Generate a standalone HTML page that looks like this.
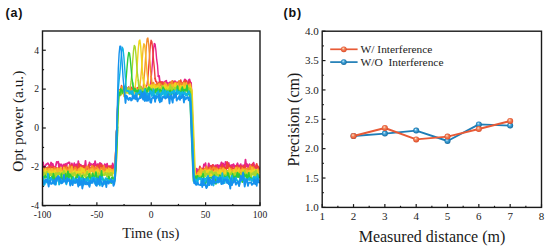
<!DOCTYPE html>
<html><head><meta charset="utf-8"><style>
html,body{margin:0;padding:0;background:#fff;}
svg{display:block;}
.tl{font-family:"Liberation Serif",serif;font-size:9.6px;fill:#222;}
.tr{font-family:"Liberation Serif",serif;font-size:11px;fill:#222;}
.al{font-family:"Liberation Serif",serif;font-size:15.3px;fill:#1a1a1a;}
.ar{font-family:"Liberation Serif",serif;font-size:16px;fill:#1a1a1a;}
.lg{font-family:"Liberation Serif",serif;font-size:11.4px;fill:#222;}
.pl{font-family:"Liberation Sans",sans-serif;font-size:12.5px;font-weight:bold;fill:#111;letter-spacing:0.9px;}
</style></head><body>
<svg width="550" height="251" viewBox="0 0 550 251">
<defs>
<radialGradient id="go" cx="0.5" cy="0.5" fx="0.38" fy="0.32" r="0.6"><stop offset="0" stop-color="#ffe6d8"/><stop offset="0.35" stop-color="#f08a60"/><stop offset="0.7" stop-color="#e85a36"/><stop offset="1" stop-color="#c23c1a"/></radialGradient>
<radialGradient id="gb" cx="0.5" cy="0.5" fx="0.38" fy="0.32" r="0.6"><stop offset="0" stop-color="#d8f2ff"/><stop offset="0.35" stop-color="#4aa6d8"/><stop offset="0.7" stop-color="#1e7db6"/><stop offset="1" stop-color="#11557f"/></radialGradient>
</defs>
<text x="5.4" y="16.5" class="pl">(a)</text>
<text x="283.4" y="16.5" class="pl">(b)</text>
<polyline points="43.1,162.3 43.9,169.6 44.7,166.7 45.5,165.4 46.3,164.2 47.1,164.0 47.9,163.2 48.7,164.6 49.5,166.0 50.3,165.6 51.1,162.5 51.9,165.3 52.7,163.8 53.5,166.4 54.3,170.7 55.1,167.6 55.9,165.2 56.7,161.9 57.5,162.5 58.3,161.8 59.1,167.8 59.9,164.1 60.7,166.2 61.5,164.4 62.3,166.2 63.1,169.5 63.9,164.3 64.7,165.1 65.5,164.0 66.3,168.2 67.1,163.4 67.9,163.2 68.7,162.5 69.5,162.5 70.3,167.2 71.1,172.4 71.9,163.5 72.7,168.4 73.5,166.6 74.3,163.2 75.1,165.3 75.9,165.4 76.7,164.3 77.5,170.8 78.3,161.2 79.1,167.0 79.9,166.8 80.7,164.6 81.5,166.4 82.3,168.2 83.1,166.4 83.9,167.0 84.7,167.7 85.5,160.9 86.3,169.7 87.1,171.7 87.9,168.5 88.7,168.5 89.5,162.5 90.3,165.7 91.1,164.0 91.9,164.5 92.7,168.4 93.5,164.0 94.3,165.7 95.1,161.2 95.9,165.6 96.7,166.2 97.5,164.2 98.3,164.2 99.1,170.7 99.9,163.0 100.7,163.4 101.5,164.0 102.3,169.0 103.1,171.3 103.9,166.8 104.7,164.2 105.5,164.9 106.3,168.7 107.1,163.7 107.9,169.6 108.7,169.5 109.5,166.2 110.3,167.6 111.1,167.9 111.9,169.9 112.7,163.4 113.5,169.0 114.3,165.1 115.1,166.0 115.9,151.4 116.7,131.8" fill="none" stroke="#e6238a" stroke-width="1.8" stroke-linejoin="round" stroke-linecap="round"/><polyline points="116.7,131.8 117.5,112.3 118.3,92.8 119.1,89.5 119.9,93.1 120.7,94.4 121.5,91.1 122.3,92.5 123.1,88.2 123.9,89.3 124.7,90.2 125.5,86.8 126.3,87.0 127.1,89.7 127.9,88.7 128.7,86.8 129.5,90.5 130.3,88.8 131.1,92.1 131.9,89.5 132.7,88.7 133.5,89.8 134.3,89.1 135.1,87.8 135.9,88.5 136.7,91.4 137.5,91.1 138.3,92.7 139.1,85.3 139.9,88.5 140.7,88.5 141.5,89.9 142.3,88.4 143.1,88.2 143.9,91.5 144.7,89.9 145.5,86.6 146.3,92.8 147.1,91.9 147.9,87.9 148.7,90.9 149.5,85.9 150.3,86.9 151.1,78.8 151.9,69.8 152.7,59.6 153.5,49.6 154.3,43.5 155.1,44.0 155.9,50.4 156.7,59.7 157.5,65.1 158.3,76.2" fill="none" stroke="#e6238a" stroke-width="1.4" stroke-linejoin="round" stroke-linecap="round"/><polyline points="158.3,76.2 159.1,75.9 159.9,82.5 160.7,85.4 161.5,83.6 162.3,82.0 163.1,82.5 163.9,82.7 164.7,81.6 165.5,81.5 166.3,80.7 167.1,86.0 167.9,83.0 168.7,85.4 169.5,82.4 170.3,83.2 171.1,82.6 171.9,84.2 172.7,85.1 173.5,83.6 174.3,81.3 175.1,81.1 175.9,87.1 176.7,82.3 177.5,82.3 178.3,86.7 179.1,85.7 179.9,84.3 180.7,82.0 181.5,88.9 182.3,84.0 183.1,84.4 183.9,82.6 184.7,79.5 185.5,79.7 186.3,84.0 187.1,84.0 187.9,82.4 188.7,80.1 189.5,79.4 190.3,82.2 191.1,83.0 191.9,104.3 192.7,125.7 193.5,147.0 194.3,168.3 195.1,177.6 195.9,174.4 196.7,168.6 197.5,170.8 198.3,170.3 199.1,171.7 199.9,170.3 200.7,169.7 201.5,168.4 202.3,169.1 203.1,170.7 203.9,164.3 204.7,165.6 205.5,163.2 206.3,170.5 207.1,169.6 207.9,168.2 208.7,163.3 209.5,166.6 210.3,165.6 211.1,166.3 211.9,165.6 212.7,167.4 213.5,165.1 214.3,168.2 215.1,166.6 215.9,165.3 216.7,165.7 217.5,164.9 218.3,168.0 219.1,165.3 219.9,166.7 220.7,165.0 221.5,162.3 222.3,168.3 223.1,163.4 223.9,167.7 224.7,167.1 225.5,161.9 226.3,163.6 227.1,164.7 227.9,163.9 228.7,163.0 229.5,167.9 230.3,165.4 231.1,167.0 231.9,164.9 232.7,166.8 233.5,164.1 234.3,165.9 235.1,167.5 235.9,166.1 236.7,164.9 237.5,163.3 238.3,166.4 239.1,166.9 239.9,165.4 240.7,164.1 241.5,167.4 242.3,172.2 243.1,165.2 243.9,166.8 244.7,166.9 245.5,159.6 246.3,166.3 247.1,164.2 247.9,169.5 248.7,165.4 249.5,164.1 250.3,165.5 251.1,166.4 251.9,164.6 252.7,165.9 253.5,162.6 254.3,165.4 255.1,167.9 255.9,170.9 256.7,167.8 257.5,166.7 258.3,169.0 259.1,168.5" fill="none" stroke="#e6238a" stroke-width="1.8" stroke-linejoin="round" stroke-linecap="round"/><polyline points="43.1,167.9 43.9,167.8 44.7,168.0 45.5,170.5 46.3,168.3 47.1,167.7 47.9,167.4 48.7,168.8 49.5,166.0 50.3,166.9 51.1,167.9 51.9,166.8 52.7,167.7 53.5,166.7 54.3,172.4 55.1,170.9 55.9,169.0 56.7,167.9 57.5,172.8 58.3,168.7 59.1,167.8 59.9,168.7 60.7,168.7 61.5,171.1 62.3,168.0 63.1,172.6 63.9,166.1 64.7,169.5 65.5,165.8 66.3,172.0 67.1,167.3 67.9,167.9 68.7,170.0 69.5,170.8 70.3,165.6 71.1,167.2 71.9,164.9 72.7,168.3 73.5,167.8 74.3,167.2 75.1,166.5 75.9,167.2 76.7,166.4 77.5,169.2 78.3,171.3 79.1,163.8 79.9,167.7 80.7,167.1 81.5,169.1 82.3,165.9 83.1,167.7 83.9,165.7 84.7,169.5 85.5,168.2 86.3,167.6 87.1,168.8 87.9,167.5 88.7,164.6 89.5,169.3 90.3,168.6 91.1,167.7 91.9,170.2 92.7,170.7 93.5,165.6 94.3,166.3 95.1,171.4 95.9,171.1 96.7,166.4 97.5,165.4 98.3,166.6 99.1,166.9 99.9,164.5 100.7,168.1 101.5,165.2 102.3,165.3 103.1,170.0 103.9,166.5 104.7,167.8 105.5,169.4 106.3,169.8 107.1,167.3 107.9,168.1 108.7,166.2 109.5,171.8 110.3,169.4 111.1,165.6 111.9,168.0 112.7,169.6 113.5,169.1 114.3,172.0 115.1,168.0 115.9,150.7 116.7,130.9" fill="none" stroke="#f0413a" stroke-width="1.8" stroke-linejoin="round" stroke-linecap="round"/><polyline points="116.7,130.9 117.5,111.2 118.3,91.4 119.1,90.0 119.9,95.9 120.7,90.2 121.5,85.4 122.3,88.5 123.1,90.2 123.9,87.2 124.7,88.1 125.5,89.2 126.3,90.8 127.1,89.6 127.9,88.0 128.7,91.7 129.5,88.8 130.3,88.9 131.1,87.0 131.9,88.3 132.7,91.4 133.5,86.4 134.3,89.8 135.1,91.6 135.9,89.2 136.7,90.5 137.5,87.5 138.3,92.9 139.1,92.4 139.9,90.5 140.7,86.1 141.5,87.7 142.3,92.1 143.1,93.8 143.9,90.6 144.7,92.5 145.5,87.9 146.3,87.2 147.1,84.2 147.9,78.3 148.7,67.0 149.5,56.5 150.3,45.8 151.1,40.2 151.9,41.8 152.7,49.7 153.5,59.9 154.3,67.6 155.1,78.4" fill="none" stroke="#f0413a" stroke-width="1.4" stroke-linejoin="round" stroke-linecap="round"/><polyline points="155.1,78.4 155.9,81.4 156.7,82.0 157.5,88.3 158.3,84.2 159.1,82.3 159.9,84.2 160.7,81.7 161.5,82.3 162.3,84.9 163.1,82.8 163.9,83.0 164.7,87.7 165.5,85.9 166.3,85.8 167.1,85.2 167.9,85.1 168.7,87.2 169.5,84.0 170.3,88.1 171.1,81.9 171.9,83.4 172.7,81.0 173.5,83.2 174.3,85.1 175.1,87.2 175.9,82.5 176.7,84.0 177.5,83.2 178.3,82.4 179.1,81.4 179.9,84.1 180.7,80.2 181.5,84.2 182.3,84.0 183.1,82.6 183.9,81.8 184.7,81.0 185.5,88.1 186.3,81.0 187.1,87.4 187.9,85.3 188.7,83.2 189.5,81.5 190.3,86.3 191.1,86.7 191.9,108.0 192.7,129.3 193.5,150.7 194.3,172.0 195.1,178.4 195.9,175.8 196.7,175.3 197.5,171.4 198.3,175.7 199.1,170.0 199.9,166.4 200.7,169.8 201.5,169.4 202.3,173.4 203.1,168.3 203.9,168.8 204.7,170.0 205.5,172.0 206.3,168.3 207.1,170.6 207.9,169.4 208.7,167.6 209.5,168.3 210.3,168.2 211.1,166.1 211.9,170.8 212.7,165.0 213.5,170.6 214.3,170.1 215.1,167.8 215.9,166.3 216.7,167.5 217.5,169.1 218.3,169.6 219.1,168.6 219.9,170.2 220.7,166.8 221.5,168.5 222.3,164.6 223.1,169.7 223.9,168.3 224.7,167.1 225.5,170.6 226.3,169.5 227.1,161.8 227.9,168.1 228.7,164.8 229.5,170.3 230.3,173.5 231.1,166.9 231.9,168.2 232.7,167.4 233.5,168.8 234.3,169.4 235.1,170.8 235.9,165.8 236.7,171.5 237.5,166.0 238.3,168.6 239.1,170.5 239.9,169.6 240.7,165.9 241.5,166.5 242.3,167.0 243.1,167.9 243.9,170.5 244.7,165.2 245.5,169.0 246.3,169.3 247.1,169.2 247.9,169.0 248.7,171.3 249.5,169.1 250.3,169.9 251.1,169.2 251.9,171.9 252.7,163.8 253.5,170.8 254.3,167.4 255.1,167.4 255.9,165.9 256.7,163.9 257.5,167.2 258.3,166.5 259.1,169.1" fill="none" stroke="#f0413a" stroke-width="1.8" stroke-linejoin="round" stroke-linecap="round"/><polyline points="43.1,168.5 43.9,170.3 44.7,173.4 45.5,170.7 46.3,168.7 47.1,169.9 47.9,168.1 48.7,170.6 49.5,171.8 50.3,168.3 51.1,169.6 51.9,172.3 52.7,169.0 53.5,170.4 54.3,167.9 55.1,168.3 55.9,169.0 56.7,174.4 57.5,169.2 58.3,168.9 59.1,168.9 59.9,169.7 60.7,171.3 61.5,170.4 62.3,174.1 63.1,170.4 63.9,172.9 64.7,170.6 65.5,171.2 66.3,167.1 67.1,169.7 67.9,169.9 68.7,169.5 69.5,165.7 70.3,171.8 71.1,169.2 71.9,169.1 72.7,169.5 73.5,169.5 74.3,170.8 75.1,167.5 75.9,168.1 76.7,170.6 77.5,170.3 78.3,169.2 79.1,168.9 79.9,168.3 80.7,169.9 81.5,172.4 82.3,167.9 83.1,173.0 83.9,171.7 84.7,169.1 85.5,171.6 86.3,167.1 87.1,166.5 87.9,167.4 88.7,169.2 89.5,169.3 90.3,169.0 91.1,170.2 91.9,165.7 92.7,171.0 93.5,167.2 94.3,168.7 95.1,169.2 95.9,167.7 96.7,167.3 97.5,168.0 98.3,170.0 99.1,171.2 99.9,171.1 100.7,168.0 101.5,168.4 102.3,168.2 103.1,170.9 103.9,165.9 104.7,172.5 105.5,169.0 106.3,168.4 107.1,170.7 107.9,172.1 108.7,170.7 109.5,172.1 110.3,170.3 111.1,172.5 111.9,172.5 112.7,169.8 113.5,172.9 114.3,170.3 115.1,170.0 115.9,150.1 116.7,130.2" fill="none" stroke="#f58c28" stroke-width="1.8" stroke-linejoin="round" stroke-linecap="round"/><polyline points="116.7,130.2 117.5,110.4 118.3,90.5 119.1,92.3 119.9,91.7 120.7,91.6 121.5,86.6 122.3,90.8 123.1,92.3 123.9,89.5 124.7,91.2 125.5,86.2 126.3,92.3 127.1,89.7 127.9,92.7 128.7,87.3 129.5,92.4 130.3,90.5 131.1,92.6 131.9,89.1 132.7,89.8 133.5,95.5 134.3,89.3 135.1,89.6 135.9,90.4 136.7,89.0 137.5,93.4 138.3,94.4 139.1,89.6 139.9,87.5 140.7,93.2 141.5,92.6 142.3,90.8 143.1,88.3 143.9,79.7 144.7,71.5 145.5,59.1 146.3,47.3 147.1,39.0 147.9,38.0 148.7,44.5 149.5,55.4 150.3,66.3 151.1,76.6" fill="none" stroke="#f58c28" stroke-width="1.4" stroke-linejoin="round" stroke-linecap="round"/><polyline points="151.1,76.6 151.9,84.0 152.7,84.7 153.5,82.6 154.3,86.1 155.1,88.2 155.9,84.5 156.7,84.0 157.5,87.5 158.3,85.8 159.1,83.3 159.9,84.7 160.7,84.0 161.5,86.1 162.3,85.7 163.1,87.8 163.9,86.9 164.7,82.4 165.5,86.3 166.3,87.3 167.1,86.4 167.9,87.6 168.7,84.4 169.5,83.6 170.3,87.4 171.1,83.4 171.9,81.2 172.7,87.6 173.5,84.1 174.3,84.9 175.1,82.7 175.9,82.8 176.7,83.2 177.5,84.8 178.3,86.2 179.1,80.9 179.9,87.0 180.7,83.1 181.5,83.4 182.3,86.9 183.1,85.4 183.9,82.4 184.7,89.2 185.5,83.8 186.3,86.0 187.1,85.9 187.9,88.3 188.7,84.6 189.5,87.5 190.3,84.0 191.1,90.7 191.9,111.7 192.7,132.7 193.5,153.7 194.3,174.7 195.1,178.5 195.9,178.6 196.7,175.8 197.5,173.1 198.3,174.5 199.1,170.7 199.9,174.1 200.7,173.9 201.5,170.3 202.3,169.9 203.1,171.2 203.9,170.7 204.7,168.6 205.5,171.6 206.3,166.3 207.1,169.4 207.9,169.4 208.7,169.6 209.5,170.8 210.3,167.7 211.1,171.3 211.9,169.7 212.7,168.8 213.5,167.3 214.3,167.7 215.1,170.7 215.9,168.1 216.7,170.1 217.5,172.1 218.3,172.1 219.1,173.1 219.9,169.4 220.7,167.8 221.5,172.0 222.3,170.6 223.1,172.3 223.9,170.0 224.7,172.4 225.5,171.7 226.3,171.4 227.1,171.0 227.9,170.8 228.7,170.5 229.5,170.5 230.3,172.0 231.1,169.0 231.9,173.5 232.7,169.8 233.5,172.0 234.3,169.8 235.1,169.5 235.9,174.1 236.7,169.4 237.5,167.4 238.3,168.6 239.1,169.4 239.9,174.3 240.7,170.4 241.5,171.9 242.3,168.0 243.1,170.7 243.9,171.3 244.7,173.6 245.5,168.6 246.3,171.2 247.1,170.6 247.9,168.0 248.7,170.0 249.5,169.5 250.3,165.3 251.1,171.2 251.9,171.1 252.7,169.1 253.5,167.3 254.3,173.0 255.1,170.5 255.9,172.0 256.7,172.8 257.5,169.0 258.3,171.6 259.1,169.5" fill="none" stroke="#f58c28" stroke-width="1.8" stroke-linejoin="round" stroke-linecap="round"/><polyline points="43.1,168.7 43.9,170.2 44.7,173.2 45.5,171.1 46.3,170.9 47.1,174.7 47.9,170.9 48.7,169.3 49.5,169.0 50.3,172.1 51.1,172.1 51.9,168.9 52.7,169.6 53.5,172.5 54.3,172.6 55.1,170.3 55.9,172.7 56.7,172.6 57.5,168.1 58.3,170.9 59.1,172.3 59.9,170.4 60.7,167.4 61.5,171.0 62.3,172.9 63.1,174.5 63.9,167.3 64.7,176.5 65.5,169.4 66.3,173.3 67.1,173.8 67.9,173.4 68.7,171.8 69.5,169.3 70.3,172.7 71.1,170.1 71.9,166.7 72.7,176.9 73.5,172.8 74.3,175.0 75.1,169.8 75.9,174.3 76.7,174.5 77.5,174.5 78.3,171.5 79.1,169.2 79.9,171.2 80.7,167.3 81.5,168.3 82.3,171.7 83.1,169.6 83.9,171.2 84.7,171.3 85.5,175.2 86.3,174.0 87.1,171.4 87.9,173.8 88.7,170.0 89.5,170.9 90.3,173.2 91.1,169.1 91.9,171.0 92.7,169.0 93.5,171.7 94.3,174.6 95.1,170.1 95.9,171.9 96.7,169.8 97.5,169.3 98.3,169.2 99.1,174.3 99.9,176.0 100.7,172.4 101.5,170.1 102.3,172.8 103.1,170.9 103.9,173.0 104.7,172.1 105.5,172.0 106.3,172.7 107.1,170.4 107.9,170.7 108.7,168.2 109.5,170.7 110.3,168.8 111.1,171.2 111.9,169.7 112.7,171.7 113.5,172.4 114.3,168.8 115.1,171.5 115.9,151.5 116.7,131.5" fill="none" stroke="#f7b82a" stroke-width="1.8" stroke-linejoin="round" stroke-linecap="round"/><polyline points="116.7,131.5 117.5,111.5 118.3,91.5 119.1,90.8 119.9,94.3 120.7,88.6 121.5,94.3 122.3,90.3 123.1,86.2 123.9,96.5 124.7,94.5 125.5,89.5 126.3,91.8 127.1,91.1 127.9,91.7 128.7,88.7 129.5,90.2 130.3,92.4 131.1,91.9 131.9,93.8 132.7,91.7 133.5,96.0 134.3,90.1 135.1,92.0 135.9,87.8 136.7,89.1 137.5,93.8 138.3,89.0 139.1,90.1 139.9,85.8 140.7,78.6 141.5,70.1 142.3,58.9 143.1,48.9 143.9,43.7 144.7,45.4 145.5,53.0 146.3,63.1 147.1,73.3 147.9,79.7" fill="none" stroke="#f7b82a" stroke-width="1.4" stroke-linejoin="round" stroke-linecap="round"/><polyline points="147.9,79.7 148.7,85.4 149.5,90.3 150.3,87.8 151.1,86.4 151.9,86.2 152.7,84.9 153.5,84.8 154.3,84.6 155.1,85.7 155.9,85.7 156.7,87.9 157.5,85.7 158.3,86.1 159.1,84.2 159.9,89.6 160.7,87.5 161.5,89.9 162.3,88.0 163.1,89.3 163.9,86.0 164.7,87.9 165.5,91.6 166.3,84.2 167.1,88.7 167.9,89.7 168.7,87.3 169.5,88.0 170.3,88.9 171.1,85.2 171.9,87.3 172.7,84.8 173.5,85.2 174.3,85.3 175.1,86.2 175.9,86.8 176.7,87.4 177.5,83.7 178.3,90.4 179.1,88.7 179.9,87.9 180.7,85.8 181.5,86.3 182.3,87.6 183.1,87.3 183.9,83.2 184.7,87.9 185.5,92.2 186.3,82.9 187.1,88.4 187.9,87.2 188.7,86.3 189.5,89.2 190.3,84.2 191.1,94.3 191.9,115.2 192.7,136.1 193.5,157.0 194.3,177.9 195.1,178.7 195.9,178.7 196.7,175.1 197.5,176.4 198.3,172.5 199.1,175.0 199.9,173.2 200.7,168.3 201.5,172.7 202.3,170.4 203.1,171.4 203.9,175.0 204.7,169.8 205.5,169.8 206.3,174.6 207.1,172.0 207.9,174.7 208.7,172.3 209.5,169.9 210.3,171.5 211.1,174.0 211.9,173.4 212.7,171.5 213.5,171.6 214.3,171.3 215.1,170.4 215.9,175.3 216.7,171.5 217.5,169.3 218.3,170.6 219.1,172.9 219.9,172.8 220.7,171.2 221.5,170.2 222.3,171.5 223.1,168.2 223.9,169.0 224.7,173.1 225.5,170.6 226.3,172.2 227.1,173.9 227.9,172.8 228.7,171.5 229.5,175.7 230.3,172.8 231.1,170.8 231.9,172.9 232.7,172.3 233.5,169.8 234.3,171.6 235.1,171.2 235.9,167.7 236.7,171.2 237.5,170.9 238.3,170.6 239.1,168.3 239.9,170.8 240.7,171.4 241.5,171.7 242.3,169.3 243.1,172.7 243.9,169.1 244.7,171.1 245.5,174.0 246.3,170.1 247.1,170.5 247.9,173.6 248.7,170.8 249.5,170.9 250.3,171.9 251.1,173.5 251.9,167.2 252.7,169.9 253.5,169.5 254.3,169.4 255.1,169.8 255.9,169.9 256.7,172.1 257.5,169.8 258.3,171.7 259.1,172.3" fill="none" stroke="#f7b82a" stroke-width="1.8" stroke-linejoin="round" stroke-linecap="round"/><polyline points="43.1,173.5 43.9,172.6 44.7,175.2 45.5,168.9 46.3,173.0 47.1,171.6 47.9,173.3 48.7,173.4 49.5,171.3 50.3,171.8 51.1,174.5 51.9,173.7 52.7,171.7 53.5,176.9 54.3,177.4 55.1,170.2 55.9,173.6 56.7,177.8 57.5,174.5 58.3,173.4 59.1,172.6 59.9,172.0 60.7,172.6 61.5,172.0 62.3,174.4 63.1,172.2 63.9,172.2 64.7,170.7 65.5,172.9 66.3,171.3 67.1,172.7 67.9,175.0 68.7,173.7 69.5,174.0 70.3,173.7 71.1,173.1 71.9,172.8 72.7,172.4 73.5,174.4 74.3,170.9 75.1,175.5 75.9,173.1 76.7,171.6 77.5,172.1 78.3,171.7 79.1,173.3 79.9,171.6 80.7,175.2 81.5,171.5 82.3,168.7 83.1,171.6 83.9,169.2 84.7,172.9 85.5,175.0 86.3,174.2 87.1,170.5 87.9,171.6 88.7,176.4 89.5,173.6 90.3,173.0 91.1,175.0 91.9,177.7 92.7,175.5 93.5,173.3 94.3,173.7 95.1,174.2 95.9,171.8 96.7,171.0 97.5,173.1 98.3,171.2 99.1,172.9 99.9,173.2 100.7,177.4 101.5,171.4 102.3,172.8 103.1,172.7 103.9,173.8 104.7,175.0 105.5,172.1 106.3,171.4 107.1,169.9 107.9,171.2 108.7,174.0 109.5,173.1 110.3,171.1 111.1,172.3 111.9,173.1 112.7,174.0 113.5,171.9 114.3,172.5 115.1,169.5 115.9,170.5 116.7,150.5 117.5,130.5" fill="none" stroke="#f0d61e" stroke-width="1.8" stroke-linejoin="round" stroke-linecap="round"/><polyline points="117.5,130.5 118.3,110.5 119.1,90.5 119.9,91.3 120.7,90.5 121.5,91.9 122.3,92.0 123.1,91.8 123.9,88.4 124.7,91.7 125.5,90.4 126.3,91.0 127.1,92.4 127.9,93.2 128.7,93.7 129.5,91.1 130.3,93.8 131.1,94.2 131.9,94.1 132.7,94.5 133.5,91.2 134.3,89.9 135.1,88.8 135.9,80.2 136.7,73.0 137.5,60.7 138.3,48.9 139.1,40.9 139.9,40.1 140.7,46.7 141.5,58.1 142.3,70.0 143.1,78.0" fill="none" stroke="#f0d61e" stroke-width="1.4" stroke-linejoin="round" stroke-linecap="round"/><polyline points="143.1,78.0 143.9,83.3 144.7,84.8 145.5,88.2 146.3,87.4 147.1,89.1 147.9,91.3 148.7,87.9 149.5,85.2 150.3,86.4 151.1,85.2 151.9,85.7 152.7,90.5 153.5,88.4 154.3,85.1 155.1,89.2 155.9,90.4 156.7,87.3 157.5,86.7 158.3,87.4 159.1,88.5 159.9,89.2 160.7,90.2 161.5,90.3 162.3,90.3 163.1,90.6 163.9,89.3 164.7,85.1 165.5,87.8 166.3,88.6 167.1,87.3 167.9,89.7 168.7,87.3 169.5,86.2 170.3,90.7 171.1,89.3 171.9,88.4 172.7,89.8 173.5,90.0 174.3,88.6 175.1,83.3 175.9,86.7 176.7,87.1 177.5,86.1 178.3,88.4 179.1,90.3 179.9,87.1 180.7,85.8 181.5,91.9 182.3,87.1 183.1,85.7 183.9,88.5 184.7,88.8 185.5,86.7 186.3,89.5 187.1,87.1 187.9,86.2 188.7,88.3 189.5,89.5 190.3,86.8 191.1,88.6 191.9,90.6 192.7,111.2 193.5,131.9 194.3,152.6 195.1,173.2 195.9,179.9 196.7,179.1 197.5,178.4 198.3,178.1 199.1,176.3 199.9,174.3 200.7,173.9 201.5,175.3 202.3,175.1 203.1,176.4 203.9,174.5 204.7,175.5 205.5,176.3 206.3,173.7 207.1,170.5 207.9,171.0 208.7,170.5 209.5,176.2 210.3,171.5 211.1,175.4 211.9,174.2 212.7,176.3 213.5,174.9 214.3,172.8 215.1,172.6 215.9,173.2 216.7,173.4 217.5,172.0 218.3,172.9 219.1,176.1 219.9,169.8 220.7,173.5 221.5,171.3 222.3,173.4 223.1,174.6 223.9,172.9 224.7,174.5 225.5,170.0 226.3,175.1 227.1,171.9 227.9,174.2 228.7,173.3 229.5,168.1 230.3,171.6 231.1,173.4 231.9,176.0 232.7,173.5 233.5,173.5 234.3,170.3 235.1,175.7 235.9,176.4 236.7,173.1 237.5,172.6 238.3,169.9 239.1,174.7 239.9,178.1 240.7,174.4 241.5,175.4 242.3,174.0 243.1,171.1 243.9,175.5 244.7,170.7 245.5,172.6 246.3,173.5 247.1,174.7 247.9,173.8 248.7,173.7 249.5,171.6 250.3,170.6 251.1,173.1 251.9,171.7 252.7,170.5 253.5,170.6 254.3,172.1 255.1,169.5 255.9,170.4 256.7,169.9 257.5,173.3 258.3,173.8 259.1,176.8" fill="none" stroke="#f0d61e" stroke-width="1.8" stroke-linejoin="round" stroke-linecap="round"/><polyline points="43.1,175.4 43.9,172.3 44.7,178.3 45.5,175.2 46.3,172.6 47.1,171.6 47.9,174.4 48.7,174.8 49.5,173.6 50.3,175.2 51.1,173.7 51.9,176.1 52.7,173.6 53.5,174.9 54.3,177.0 55.1,180.1 55.9,173.0 56.7,174.1 57.5,173.3 58.3,176.6 59.1,172.7 59.9,174.0 60.7,174.9 61.5,173.0 62.3,173.1 63.1,174.0 63.9,170.8 64.7,172.1 65.5,174.2 66.3,175.3 67.1,174.6 67.9,171.5 68.7,174.1 69.5,176.6 70.3,176.1 71.1,174.8 71.9,173.2 72.7,176.3 73.5,173.8 74.3,172.7 75.1,173.4 75.9,177.9 76.7,175.4 77.5,177.3 78.3,174.0 79.1,176.9 79.9,173.8 80.7,174.7 81.5,180.0 82.3,176.5 83.1,174.0 83.9,174.8 84.7,175.7 85.5,177.4 86.3,174.0 87.1,171.5 87.9,174.4 88.7,175.0 89.5,175.2 90.3,177.6 91.1,175.6 91.9,176.6 92.7,172.8 93.5,176.7 94.3,179.2 95.1,176.5 95.9,175.5 96.7,175.3 97.5,178.6 98.3,173.1 99.1,174.8 99.9,175.9 100.7,176.5 101.5,174.1 102.3,175.6 103.1,174.4 103.9,175.2 104.7,174.7 105.5,172.7 106.3,175.0 107.1,176.8 107.9,173.1 108.7,174.5 109.5,176.3 110.3,172.9 111.1,175.4 111.9,172.9 112.7,177.3 113.5,179.6 114.3,179.0 115.1,175.0 115.9,159.9 116.7,139.8" fill="none" stroke="#a8d62c" stroke-width="1.8" stroke-linejoin="round" stroke-linecap="round"/><polyline points="116.7,139.8 117.5,119.7 118.3,99.6 119.1,92.0 119.9,94.1 120.7,91.9 121.5,94.8 122.3,92.4 123.1,90.7 123.9,92.6 124.7,93.5 125.5,92.1 126.3,93.0 127.1,90.9 127.9,87.6 128.7,93.1 129.5,91.3 130.3,87.2 131.1,81.2 131.9,72.8 132.7,61.0 133.5,50.9 134.3,45.4 135.1,46.7 135.9,54.1 136.7,65.3 137.5,74.2 138.3,80.5" fill="none" stroke="#a8d62c" stroke-width="1.4" stroke-linejoin="round" stroke-linecap="round"/><polyline points="138.3,80.5 139.1,88.5 139.9,88.1 140.7,86.6 141.5,88.7 142.3,91.3 143.1,91.9 143.9,88.6 144.7,90.3 145.5,90.9 146.3,88.2 147.1,90.2 147.9,89.4 148.7,88.4 149.5,88.5 150.3,89.6 151.1,89.6 151.9,88.4 152.7,88.6 153.5,91.7 154.3,89.9 155.1,91.3 155.9,91.9 156.7,90.7 157.5,94.0 158.3,87.8 159.1,91.1 159.9,88.9 160.7,93.2 161.5,92.9 162.3,85.6 163.1,87.6 163.9,90.8 164.7,91.1 165.5,91.0 166.3,89.4 167.1,90.4 167.9,90.8 168.7,89.3 169.5,91.6 170.3,85.0 171.1,90.8 171.9,87.4 172.7,91.4 173.5,89.0 174.3,87.7 175.1,90.2 175.9,87.7 176.7,87.7 177.5,86.4 178.3,89.4 179.1,90.5 179.9,91.5 180.7,89.2 181.5,91.6 182.3,89.5 183.1,89.3 183.9,90.6 184.7,91.6 185.5,88.8 186.3,89.0 187.1,89.2 187.9,89.7 188.7,87.7 189.5,91.6 190.3,88.7 191.1,97.1 191.9,117.5 192.7,137.8 193.5,158.1 194.3,178.5 195.1,180.9 195.9,179.2 196.7,180.2 197.5,178.8 198.3,175.9 199.1,175.9 199.9,177.0 200.7,176.1 201.5,175.9 202.3,175.1 203.1,172.0 203.9,175.0 204.7,171.0 205.5,176.0 206.3,173.8 207.1,173.7 207.9,174.7 208.7,175.6 209.5,172.2 210.3,171.6 211.1,172.9 211.9,171.0 212.7,173.1 213.5,178.2 214.3,172.9 215.1,176.3 215.9,172.3 216.7,175.6 217.5,174.4 218.3,174.9 219.1,176.1 219.9,178.5 220.7,175.4 221.5,175.3 222.3,173.1 223.1,176.2 223.9,174.5 224.7,176.7 225.5,174.9 226.3,178.5 227.1,171.0 227.9,174.4 228.7,176.8 229.5,174.3 230.3,173.4 231.1,174.5 231.9,172.2 232.7,175.2 233.5,179.9 234.3,177.3 235.1,172.8 235.9,173.3 236.7,174.2 237.5,177.0 238.3,173.4 239.1,173.6 239.9,176.8 240.7,176.7 241.5,174.3 242.3,172.8 243.1,171.9 243.9,173.6 244.7,170.5 245.5,176.5 246.3,173.7 247.1,176.0 247.9,178.7 248.7,177.3 249.5,172.7 250.3,176.7 251.1,177.3 251.9,173.5 252.7,173.1 253.5,174.8 254.3,171.8 255.1,177.9 255.9,170.2 256.7,172.8 257.5,174.5 258.3,174.5 259.1,175.3" fill="none" stroke="#a8d62c" stroke-width="1.8" stroke-linejoin="round" stroke-linecap="round"/><polyline points="43.1,177.6 43.9,176.9 44.7,177.0 45.5,175.5 46.3,177.3 47.1,176.6 47.9,178.2 48.7,174.9 49.5,178.6 50.3,178.4 51.1,177.6 51.9,176.9 52.7,179.4 53.5,173.7 54.3,179.2 55.1,178.6 55.9,178.7 56.7,179.0 57.5,176.3 58.3,177.3 59.1,179.7 59.9,179.1 60.7,178.5 61.5,174.1 62.3,179.4 63.1,181.0 63.9,180.6 64.7,178.6 65.5,174.0 66.3,180.5 67.1,177.6 67.9,171.4 68.7,179.0 69.5,174.1 70.3,174.6 71.1,176.3 71.9,181.3 72.7,177.0 73.5,178.7 74.3,182.5 75.1,182.1 75.9,177.7 76.7,177.4 77.5,174.7 78.3,176.2 79.1,179.1 79.9,179.0 80.7,178.3 81.5,180.6 82.3,176.0 83.1,177.9 83.9,179.9 84.7,179.5 85.5,180.8 86.3,179.0 87.1,177.2 87.9,178.9 88.7,175.4 89.5,173.7 90.3,179.5 91.1,177.9 91.9,178.8 92.7,173.6 93.5,177.1 94.3,176.4 95.1,175.8 95.9,172.1 96.7,177.1 97.5,180.3 98.3,179.0 99.1,176.4 99.9,178.0 100.7,180.0 101.5,170.8 102.3,177.7 103.1,179.4 103.9,179.8 104.7,182.4 105.5,181.0 106.3,178.8 107.1,178.8 107.9,180.0 108.7,176.6 109.5,177.9 110.3,180.4 111.1,183.1 111.9,177.6 112.7,177.9 113.5,178.5 114.3,181.5 115.1,178.0 115.9,167.8 116.7,147.5 117.5,127.1" fill="none" stroke="#2bcb3c" stroke-width="1.8" stroke-linejoin="round" stroke-linecap="round"/><polyline points="117.5,127.1 118.3,106.8 119.1,92.5 119.9,95.2 120.7,88.6 121.5,90.1 122.3,93.2 123.1,90.3 123.9,87.3 124.7,90.7 125.5,84.6 126.3,76.8 127.1,66.7 127.9,57.9 128.7,52.5 129.5,53.1 130.3,59.2 131.1,68.2 131.9,77.8 132.7,83.1" fill="none" stroke="#2bcb3c" stroke-width="1.4" stroke-linejoin="round" stroke-linecap="round"/><polyline points="132.7,83.1 133.5,89.8 134.3,90.9 135.1,88.8 135.9,91.6 136.7,90.6 137.5,93.9 138.3,89.9 139.1,90.4 139.9,94.6 140.7,97.3 141.5,96.7 142.3,91.7 143.1,92.1 143.9,95.5 144.7,91.2 145.5,89.0 146.3,91.8 147.1,92.7 147.9,89.3 148.7,87.2 149.5,87.8 150.3,93.2 151.1,89.5 151.9,91.1 152.7,92.1 153.5,93.1 154.3,90.6 155.1,92.8 155.9,89.2 156.7,90.6 157.5,88.8 158.3,94.4 159.1,91.4 159.9,89.6 160.7,90.6 161.5,90.9 162.3,93.3 163.1,87.4 163.9,88.8 164.7,90.5 165.5,98.1 166.3,94.0 167.1,91.2 167.9,93.4 168.7,96.8 169.5,90.9 170.3,90.5 171.1,94.7 171.9,92.8 172.7,93.2 173.5,90.2 174.3,96.5 175.1,95.9 175.9,93.0 176.7,93.3 177.5,86.2 178.3,93.2 179.1,91.0 179.9,92.6 180.7,93.3 181.5,90.6 182.3,87.1 183.1,92.5 183.9,89.6 184.7,90.6 185.5,89.9 186.3,90.6 187.1,85.5 187.9,94.7 188.7,92.2 189.5,91.5 190.3,103.9 191.1,123.8 191.9,143.7 192.7,163.6 193.5,180.9 194.3,179.9 195.1,179.9 195.9,176.2 196.7,179.8 197.5,175.8 198.3,179.4 199.1,178.3 199.9,177.7 200.7,178.2 201.5,176.9 202.3,176.7 203.1,173.9 203.9,178.1 204.7,182.9 205.5,183.2 206.3,181.5 207.1,179.9 207.9,176.3 208.7,181.8 209.5,177.9 210.3,177.8 211.1,177.3 211.9,178.3 212.7,176.9 213.5,177.8 214.3,175.2 215.1,177.0 215.9,183.9 216.7,177.8 217.5,177.4 218.3,179.4 219.1,179.8 219.9,175.1 220.7,177.5 221.5,180.4 222.3,178.7 223.1,178.3 223.9,182.0 224.7,176.2 225.5,178.2 226.3,176.6 227.1,181.9 227.9,172.9 228.7,176.3 229.5,176.6 230.3,179.7 231.1,179.6 231.9,181.6 232.7,173.9 233.5,180.0 234.3,177.2 235.1,176.3 235.9,179.4 236.7,175.6 237.5,172.6 238.3,177.0 239.1,174.1 239.9,176.3 240.7,179.0 241.5,178.8 242.3,182.1 243.1,177.5 243.9,174.0 244.7,176.0 245.5,175.6 246.3,174.8 247.1,179.1 247.9,176.3 248.7,172.9 249.5,179.8 250.3,177.7 251.1,178.9 251.9,178.3 252.7,179.6 253.5,178.1 254.3,181.2 255.1,179.1 255.9,179.0 256.7,179.1 257.5,174.2 258.3,177.6 259.1,177.3" fill="none" stroke="#2bcb3c" stroke-width="1.8" stroke-linejoin="round" stroke-linecap="round"/><polyline points="43.1,177.1 43.9,185.0 44.7,184.3 45.5,179.3 46.3,182.5 47.1,181.5 47.9,173.7 48.7,181.2 49.5,180.3 50.3,180.7 51.1,177.7 51.9,179.8 52.7,180.0 53.5,183.6 54.3,181.4 55.1,180.5 55.9,184.5 56.7,179.1 57.5,179.5 58.3,175.8 59.1,184.6 59.9,183.0 60.7,182.9 61.5,182.2 62.3,180.8 63.1,181.1 63.9,179.8 64.7,180.0 65.5,180.6 66.3,184.4 67.1,181.9 67.9,180.3 68.7,179.0 69.5,178.8 70.3,184.7 71.1,181.8 71.9,180.7 72.7,179.6 73.5,177.6 74.3,180.3 75.1,182.8 75.9,179.5 76.7,179.9 77.5,179.9 78.3,180.8 79.1,176.4 79.9,179.9 80.7,178.3 81.5,182.8 82.3,178.5 83.1,182.0 83.9,184.5 84.7,179.7 85.5,178.9 86.3,181.0 87.1,180.5 87.9,177.9 88.7,181.7 89.5,185.7 90.3,179.8 91.1,180.0 91.9,177.8 92.7,181.3 93.5,177.3 94.3,177.6 95.1,183.8 95.9,178.1 96.7,183.3 97.5,184.5 98.3,181.2 99.1,181.9 99.9,185.6 100.7,180.0 101.5,179.0 102.3,177.0 103.1,180.6 103.9,184.3 104.7,183.0 105.5,178.1 106.3,178.3 107.1,179.2 107.9,181.3 108.7,180.0 109.5,181.1 110.3,181.3 111.1,179.7 111.9,180.4 112.7,181.0 113.5,180.3 114.3,181.8 115.1,172.8 115.9,152.3 116.7,131.5" fill="none" stroke="#0fb5e3" stroke-width="1.8" stroke-linejoin="round" stroke-linecap="round"/><polyline points="116.7,131.5 117.5,109.7 118.3,89.3 119.1,80.4 119.9,73.0 120.7,63.2 121.5,52.7 122.3,47.3 123.1,49.0 123.9,57.1 124.7,67.9 125.5,79.4 126.3,90.3" fill="none" stroke="#0fb5e3" stroke-width="1.4" stroke-linejoin="round" stroke-linecap="round"/><polyline points="126.3,90.3 127.1,91.1 127.9,90.8 128.7,90.6 129.5,93.8 130.3,93.5 131.1,91.0 131.9,94.3 132.7,91.0 133.5,96.9 134.3,96.8 135.1,96.8 135.9,92.8 136.7,95.3 137.5,93.7 138.3,93.0 139.1,93.1 139.9,90.6 140.7,90.2 141.5,96.1 142.3,93.5 143.1,94.6 143.9,96.6 144.7,89.5 145.5,92.0 146.3,94.5 147.1,95.0 147.9,93.0 148.7,96.7 149.5,94.5 150.3,90.8 151.1,91.6 151.9,96.1 152.7,95.2 153.5,89.1 154.3,97.5 155.1,95.6 155.9,97.5 156.7,93.0 157.5,93.2 158.3,91.1 159.1,100.6 159.9,93.5 160.7,98.1 161.5,92.3 162.3,94.4 163.1,89.7 163.9,93.0 164.7,96.6 165.5,90.7 166.3,96.8 167.1,94.9 167.9,91.3 168.7,92.7 169.5,92.8 170.3,93.9 171.1,92.6 171.9,91.8 172.7,93.2 173.5,91.3 174.3,90.6 175.1,93.9 175.9,96.3 176.7,90.0 177.5,94.0 178.3,92.3 179.1,91.5 179.9,96.2 180.7,92.7 181.5,97.9 182.3,92.0 183.1,95.0 183.9,93.4 184.7,92.0 185.5,95.5 186.3,93.6 187.1,95.6 187.9,93.9 188.7,91.2 189.5,93.7 190.3,94.0 191.1,108.7 191.9,128.4 192.7,148.1 193.5,167.7 194.3,182.4 195.1,181.1 195.9,179.3 196.7,181.4 197.5,183.4 198.3,177.9 199.1,178.5 199.9,179.1 200.7,178.1 201.5,181.7 202.3,178.7 203.1,178.8 203.9,182.1 204.7,178.7 205.5,181.7 206.3,178.1 207.1,177.4 207.9,175.8 208.7,185.4 209.5,179.7 210.3,181.2 211.1,180.4 211.9,180.9 212.7,180.6 213.5,185.5 214.3,177.8 215.1,176.5 215.9,177.9 216.7,177.0 217.5,182.4 218.3,182.6 219.1,178.0 219.9,176.9 220.7,179.6 221.5,184.1 222.3,173.2 223.1,181.9 223.9,177.7 224.7,183.2 225.5,177.7 226.3,179.8 227.1,176.6 227.9,178.0 228.7,184.1 229.5,182.6 230.3,179.5 231.1,178.2 231.9,175.6 232.7,179.5 233.5,180.4 234.3,180.3 235.1,180.3 235.9,177.6 236.7,180.3 237.5,180.4 238.3,183.9 239.1,185.4 239.9,180.1 240.7,178.5 241.5,180.3 242.3,178.9 243.1,178.6 243.9,180.3 244.7,177.8 245.5,182.1 246.3,180.2 247.1,181.2 247.9,180.0 248.7,178.6 249.5,178.0 250.3,179.9 251.1,179.1 251.9,181.1 252.7,180.5 253.5,177.0 254.3,180.7 255.1,177.0 255.9,178.9 256.7,179.7 257.5,175.1 258.3,180.7 259.1,180.9" fill="none" stroke="#0fb5e3" stroke-width="1.8" stroke-linejoin="round" stroke-linecap="round"/><polyline points="43.1,182.5 43.9,183.4 44.7,181.7 45.5,179.8 46.3,181.1 47.1,179.5 47.9,182.7 48.7,186.5 49.5,181.0 50.3,180.6 51.1,184.0 51.9,183.6 52.7,182.8 53.5,179.7 54.3,182.4 55.1,184.6 55.9,178.5 56.7,181.1 57.5,176.8 58.3,178.6 59.1,177.0 59.9,181.8 60.7,178.7 61.5,183.3 62.3,183.0 63.1,181.9 63.9,174.9 64.7,180.9 65.5,182.4 66.3,182.8 67.1,177.9 67.9,181.1 68.7,179.6 69.5,180.1 70.3,185.7 71.1,180.1 71.9,182.4 72.7,185.2 73.5,180.7 74.3,182.2 75.1,182.8 75.9,182.7 76.7,178.8 77.5,182.7 78.3,186.6 79.1,177.9 79.9,185.1 80.7,182.9 81.5,180.6 82.3,188.5 83.1,184.8 83.9,178.9 84.7,182.7 85.5,184.2 86.3,181.9 87.1,184.5 87.9,182.3 88.7,184.5 89.5,186.8 90.3,180.5 91.1,183.1 91.9,181.1 92.7,182.9 93.5,178.9 94.3,180.8 95.1,181.9 95.9,185.2 96.7,185.9 97.5,178.5 98.3,180.1 99.1,184.4 99.9,176.5 100.7,181.1 101.5,182.2 102.3,186.3 103.1,184.6 103.9,181.5 104.7,181.4 105.5,181.7 106.3,187.1 107.1,181.2 107.9,181.6 108.7,183.6 109.5,182.1 110.3,181.9 111.1,179.2 111.9,182.5 112.7,181.1 113.5,185.8 114.3,183.8 115.1,178.2 115.9,155.5 116.7,129.9" fill="none" stroke="#1592ee" stroke-width="1.8" stroke-linejoin="round" stroke-linecap="round"/><polyline points="116.7,129.9 117.5,100.7 118.3,68.5 119.1,53.9 119.9,46.1 120.7,46.1 121.5,53.7 122.3,65.1 123.1,78.1 123.9,86.2" fill="none" stroke="#1592ee" stroke-width="1.4" stroke-linejoin="round" stroke-linecap="round"/><polyline points="123.9,86.2 124.7,94.2 125.5,103.0 126.3,95.5 127.1,96.5 127.9,99.1 128.7,100.0 129.5,98.0 130.3,97.9 131.1,100.6 131.9,100.1 132.7,95.4 133.5,98.3 134.3,98.6 135.1,95.3 135.9,99.3 136.7,95.9 137.5,101.4 138.3,99.1 139.1,98.8 139.9,96.7 140.7,98.1 141.5,92.5 142.3,95.1 143.1,99.6 143.9,92.1 144.7,101.0 145.5,93.3 146.3,100.8 147.1,96.0 147.9,100.8 148.7,98.9 149.5,93.9 150.3,102.2 151.1,102.8 151.9,98.3 152.7,97.7 153.5,98.0 154.3,95.6 155.1,101.8 155.9,96.9 156.7,98.3 157.5,96.1 158.3,96.6 159.1,94.7 159.9,102.3 160.7,98.0 161.5,101.4 162.3,98.5 163.1,96.4 163.9,97.5 164.7,96.8 165.5,98.5 166.3,97.4 167.1,97.6 167.9,94.4 168.7,96.1 169.5,103.5 170.3,96.5 171.1,95.3 171.9,99.5 172.7,102.7 173.5,94.1 174.3,97.9 175.1,96.6 175.9,93.2 176.7,100.7 177.5,98.4 178.3,98.7 179.1,96.2 179.9,99.9 180.7,96.9 181.5,98.1 182.3,95.2 183.1,94.9 183.9,102.5 184.7,97.0 185.5,99.4 186.3,98.4 187.1,97.2 187.9,97.0 188.7,100.4 189.5,97.6 190.3,100.9 191.1,119.7 191.9,138.6 192.7,157.5 193.5,176.4 194.3,183.4 195.1,181.5 195.9,184.7 196.7,184.9 197.5,182.5 198.3,184.1 199.1,184.8 199.9,185.0 200.7,185.2 201.5,181.3 202.3,187.0 203.1,178.9 203.9,185.1 204.7,184.0 205.5,185.1 206.3,188.1 207.1,187.0 207.9,179.1 208.7,177.5 209.5,185.0 210.3,179.5 211.1,182.5 211.9,185.0 212.7,177.6 213.5,176.2 214.3,183.3 215.1,182.6 215.9,181.8 216.7,182.6 217.5,179.9 218.3,178.0 219.1,182.0 219.9,179.6 220.7,177.6 221.5,184.0 222.3,182.3 223.1,183.7 223.9,179.5 224.7,180.5 225.5,179.5 226.3,179.8 227.1,183.1 227.9,180.2 228.7,183.6 229.5,183.5 230.3,188.6 231.1,178.3 231.9,185.2 232.7,182.2 233.5,182.5 234.3,178.2 235.1,181.1 235.9,184.7 236.7,182.3 237.5,182.7 238.3,181.6 239.1,186.0 239.9,182.4 240.7,175.9 241.5,180.4 242.3,176.6 243.1,172.7 243.9,180.9 244.7,186.5 245.5,182.6 246.3,179.0 247.1,179.7 247.9,185.9 248.7,183.0 249.5,182.6 250.3,182.3 251.1,182.6 251.9,184.9 252.7,184.2 253.5,183.1 254.3,179.4 255.1,184.0 255.9,180.4 256.7,185.8 257.5,178.7 258.3,182.1 259.1,182.5" fill="none" stroke="#1592ee" stroke-width="1.8" stroke-linejoin="round" stroke-linecap="round"/>
<rect x="42.5" y="31.0" width="217.5" height="174.5" fill="none" stroke="#1a1a1a" stroke-width="1.4"/>
<line x1="42.5" y1="205.76" x2="45.8" y2="205.76" stroke="#1a1a1a" stroke-width="1.2"/><text x="39.0" y="209.06" class="tl" text-anchor="end">-4</text><line x1="42.5" y1="186.32" x2="44.1" y2="186.32" stroke="#1a1a1a" stroke-width="1.2"/><line x1="42.5" y1="166.88" x2="45.8" y2="166.88" stroke="#1a1a1a" stroke-width="1.2"/><text x="39.0" y="170.18" class="tl" text-anchor="end">-2</text><line x1="42.5" y1="147.44" x2="44.1" y2="147.44" stroke="#1a1a1a" stroke-width="1.2"/><line x1="42.5" y1="128.00" x2="45.8" y2="128.00" stroke="#1a1a1a" stroke-width="1.2"/><text x="39.0" y="131.30" class="tl" text-anchor="end">0</text><line x1="42.5" y1="108.56" x2="44.1" y2="108.56" stroke="#1a1a1a" stroke-width="1.2"/><line x1="42.5" y1="89.12" x2="45.8" y2="89.12" stroke="#1a1a1a" stroke-width="1.2"/><text x="39.0" y="92.42" class="tl" text-anchor="end">2</text><line x1="42.5" y1="69.68" x2="44.1" y2="69.68" stroke="#1a1a1a" stroke-width="1.2"/><line x1="42.5" y1="50.24" x2="45.8" y2="50.24" stroke="#1a1a1a" stroke-width="1.2"/><text x="39.0" y="53.54" class="tl" text-anchor="end">4</text><line x1="42.50" y1="205.5" x2="42.50" y2="202.2" stroke="#1a1a1a" stroke-width="1.2"/><text x="42.50" y="217.5" class="tl" text-anchor="middle">-100</text><line x1="69.69" y1="205.5" x2="69.69" y2="203.9" stroke="#1a1a1a" stroke-width="1.2"/><line x1="96.88" y1="205.5" x2="96.88" y2="202.2" stroke="#1a1a1a" stroke-width="1.2"/><text x="96.88" y="217.5" class="tl" text-anchor="middle">-50</text><line x1="124.06" y1="205.5" x2="124.06" y2="203.9" stroke="#1a1a1a" stroke-width="1.2"/><line x1="151.25" y1="205.5" x2="151.25" y2="202.2" stroke="#1a1a1a" stroke-width="1.2"/><text x="151.25" y="217.5" class="tl" text-anchor="middle">0</text><line x1="178.44" y1="205.5" x2="178.44" y2="203.9" stroke="#1a1a1a" stroke-width="1.2"/><line x1="205.62" y1="205.5" x2="205.62" y2="202.2" stroke="#1a1a1a" stroke-width="1.2"/><text x="205.62" y="217.5" class="tl" text-anchor="middle">50</text><line x1="232.81" y1="205.5" x2="232.81" y2="203.9" stroke="#1a1a1a" stroke-width="1.2"/><line x1="260.00" y1="205.5" x2="260.00" y2="202.2" stroke="#1a1a1a" stroke-width="1.2"/><text x="260.00" y="217.5" class="tl" text-anchor="middle">100</text>
<text x="150.8" y="238.1" class="al" style="font-size:14.7px" text-anchor="middle">Time (ns)</text>
<text transform="translate(23,121.3) rotate(-90)" class="al" text-anchor="middle">Opt power (a.u.)</text>
<polyline points="353.53,136.00 384.86,133.60 416.19,130.60 447.51,141.00 478.84,124.40 510.17,125.60" fill="none" stroke="#1e7db6" stroke-width="1.9" stroke-linejoin="round"/><circle cx="353.53" cy="136.00" r="3.0" fill="url(#gb)"/><circle cx="384.86" cy="133.60" r="3.0" fill="url(#gb)"/><circle cx="416.19" cy="130.60" r="3.0" fill="url(#gb)"/><circle cx="447.51" cy="141.00" r="3.0" fill="url(#gb)"/><circle cx="478.84" cy="124.40" r="3.0" fill="url(#gb)"/><circle cx="510.17" cy="125.60" r="3.0" fill="url(#gb)"/><polyline points="353.53,136.00 384.86,128.00 416.19,139.40 447.51,136.60 478.84,129.00 510.17,121.00" fill="none" stroke="#e85a36" stroke-width="1.9" stroke-linejoin="round"/><circle cx="353.53" cy="136.00" r="3.0" fill="url(#go)"/><circle cx="384.86" cy="128.00" r="3.0" fill="url(#go)"/><circle cx="416.19" cy="139.40" r="3.0" fill="url(#go)"/><circle cx="447.51" cy="136.60" r="3.0" fill="url(#go)"/><circle cx="478.84" cy="129.00" r="3.0" fill="url(#go)"/><circle cx="510.17" cy="121.00" r="3.0" fill="url(#go)"/>
<rect x="322.2" y="31.2" width="219.3" height="176.20000000000002" fill="none" stroke="#1a1a1a" stroke-width="1.4"/>
<line x1="322.2" y1="207.40" x2="325.5" y2="207.40" stroke="#1a1a1a" stroke-width="1.2"/><text x="318.7" y="211.10" class="tr" text-anchor="end">1.0</text><line x1="322.2" y1="192.72" x2="323.8" y2="192.72" stroke="#1a1a1a" stroke-width="1.2"/><line x1="322.2" y1="178.03" x2="325.5" y2="178.03" stroke="#1a1a1a" stroke-width="1.2"/><text x="318.7" y="181.73" class="tr" text-anchor="end">1.5</text><line x1="322.2" y1="163.35" x2="323.8" y2="163.35" stroke="#1a1a1a" stroke-width="1.2"/><line x1="322.2" y1="148.67" x2="325.5" y2="148.67" stroke="#1a1a1a" stroke-width="1.2"/><text x="318.7" y="152.37" class="tr" text-anchor="end">2.0</text><line x1="322.2" y1="133.98" x2="323.8" y2="133.98" stroke="#1a1a1a" stroke-width="1.2"/><line x1="322.2" y1="119.30" x2="325.5" y2="119.30" stroke="#1a1a1a" stroke-width="1.2"/><text x="318.7" y="123.00" class="tr" text-anchor="end">2.5</text><line x1="322.2" y1="104.62" x2="323.8" y2="104.62" stroke="#1a1a1a" stroke-width="1.2"/><line x1="322.2" y1="89.93" x2="325.5" y2="89.93" stroke="#1a1a1a" stroke-width="1.2"/><text x="318.7" y="93.63" class="tr" text-anchor="end">3.0</text><line x1="322.2" y1="75.25" x2="323.8" y2="75.25" stroke="#1a1a1a" stroke-width="1.2"/><line x1="322.2" y1="60.57" x2="325.5" y2="60.57" stroke="#1a1a1a" stroke-width="1.2"/><text x="318.7" y="64.27" class="tr" text-anchor="end">3.5</text><line x1="322.2" y1="45.88" x2="323.8" y2="45.88" stroke="#1a1a1a" stroke-width="1.2"/><line x1="322.2" y1="31.20" x2="325.5" y2="31.20" stroke="#1a1a1a" stroke-width="1.2"/><text x="318.7" y="34.90" class="tr" text-anchor="end">4.0</text><line x1="322.20" y1="207.4" x2="322.20" y2="204.1" stroke="#1a1a1a" stroke-width="1.2"/><text x="322.20" y="220" class="tr" text-anchor="middle">1</text><line x1="337.86" y1="207.4" x2="337.86" y2="205.8" stroke="#1a1a1a" stroke-width="1.2"/><line x1="353.53" y1="207.4" x2="353.53" y2="204.1" stroke="#1a1a1a" stroke-width="1.2"/><text x="353.53" y="220" class="tr" text-anchor="middle">2</text><line x1="369.19" y1="207.4" x2="369.19" y2="205.8" stroke="#1a1a1a" stroke-width="1.2"/><line x1="384.86" y1="207.4" x2="384.86" y2="204.1" stroke="#1a1a1a" stroke-width="1.2"/><text x="384.86" y="220" class="tr" text-anchor="middle">3</text><line x1="400.52" y1="207.4" x2="400.52" y2="205.8" stroke="#1a1a1a" stroke-width="1.2"/><line x1="416.19" y1="207.4" x2="416.19" y2="204.1" stroke="#1a1a1a" stroke-width="1.2"/><text x="416.19" y="220" class="tr" text-anchor="middle">4</text><line x1="431.85" y1="207.4" x2="431.85" y2="205.8" stroke="#1a1a1a" stroke-width="1.2"/><line x1="447.51" y1="207.4" x2="447.51" y2="204.1" stroke="#1a1a1a" stroke-width="1.2"/><text x="447.51" y="220" class="tr" text-anchor="middle">5</text><line x1="463.18" y1="207.4" x2="463.18" y2="205.8" stroke="#1a1a1a" stroke-width="1.2"/><line x1="478.84" y1="207.4" x2="478.84" y2="204.1" stroke="#1a1a1a" stroke-width="1.2"/><text x="478.84" y="220" class="tr" text-anchor="middle">6</text><line x1="494.51" y1="207.4" x2="494.51" y2="205.8" stroke="#1a1a1a" stroke-width="1.2"/><line x1="510.17" y1="207.4" x2="510.17" y2="204.1" stroke="#1a1a1a" stroke-width="1.2"/><text x="510.17" y="220" class="tr" text-anchor="middle">7</text><line x1="525.84" y1="207.4" x2="525.84" y2="205.8" stroke="#1a1a1a" stroke-width="1.2"/><line x1="541.50" y1="207.4" x2="541.50" y2="204.1" stroke="#1a1a1a" stroke-width="1.2"/><text x="541.50" y="220" class="tr" text-anchor="middle">8</text>
<line x1="330.2" y1="49.3" x2="357.6" y2="49.3" stroke="#e85a36" stroke-width="1.7"/><circle cx="343.8" cy="49.3" r="2.9" fill="url(#go)"/><text x="360.6" y="53.1" class="lg">W/ Interference</text><line x1="330.2" y1="62.1" x2="357.6" y2="62.1" stroke="#1e7db6" stroke-width="1.7"/><circle cx="343.8" cy="62.1" r="2.9" fill="url(#gb)"/><text x="360.6" y="66.2" class="lg" xml:space="preserve">W/O  Interference</text>
<text x="432" y="241.6" class="ar" text-anchor="middle">Measured distance (m)</text>
<text transform="translate(299.1,119.6) rotate(-90)" class="ar" text-anchor="middle">Precision (cm)</text>
</svg>
</body></html>
